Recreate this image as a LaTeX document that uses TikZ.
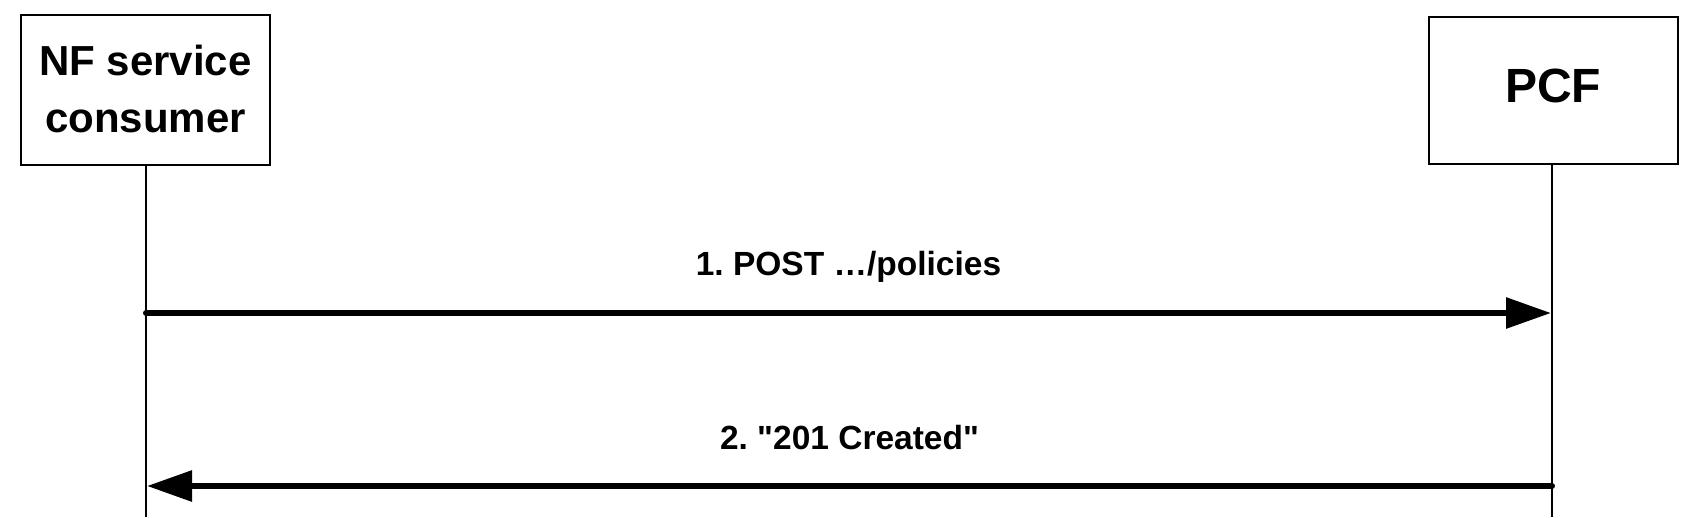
\documentclass[tikz,border=0pt]{standalone}
\usepackage{fontspec}
\setmainfont{Liberation Sans}[Ligatures=TeXOff]
\usetikzlibrary{arrows.meta}
\frenchspacing
\tikzset{
  entity/.style={draw, line width=2pt, inner sep=0pt, align=center, font=\bfseries},
  lifeline/.style={line width=2pt},
  msg/.style={line width=6pt, line cap=round, -{Triangle[length=45pt,width=30pt]}},
  msglabel/.style={anchor=base, font=\fontsize{33.5}{38}\selectfont\bfseries},
}
\begin{document}
\begin{tikzpicture}[x=1pt,y=-1pt]
\useasboundingbox (0,0) rectangle (1687,517);
\node[entity, minimum width=249pt, minimum height=150pt, text depth=1pt,
      font=\fontsize{42}{57}\selectfont\bfseries] (nf) at (145.5,89.7) {NF service\\consumer};
\node[entity, minimum width=248.7pt, minimum height=147pt, text depth=10pt,
      font=\fontsize{48}{56}\selectfont\bfseries] (pcf) at (1553.3,90.5) {PCF};
\coordinate (nfend) at (146,517);
\coordinate (pcfend) at (1552,517);
\draw[lifeline] (nf.south -| nfend) -- (nfend);
\draw[lifeline] (pcf.south -| pcfend) -- (pcfend);
\coordinate (m1s) at (146,313);
\coordinate (m1e) at (1551,313);
\coordinate (m2s) at (1552,486);
\coordinate (m2e) at (147,486);
\draw[msg] (m1s) -- (m1e) node[msglabel, midway, yshift=38pt] (l1) {1. POST \dots/policies};
\draw[msg] (m2s) -- (m2e) node[msglabel, midway, yshift=37pt] (l2) {2. "201 Created"};
\end{tikzpicture}
\end{document}
